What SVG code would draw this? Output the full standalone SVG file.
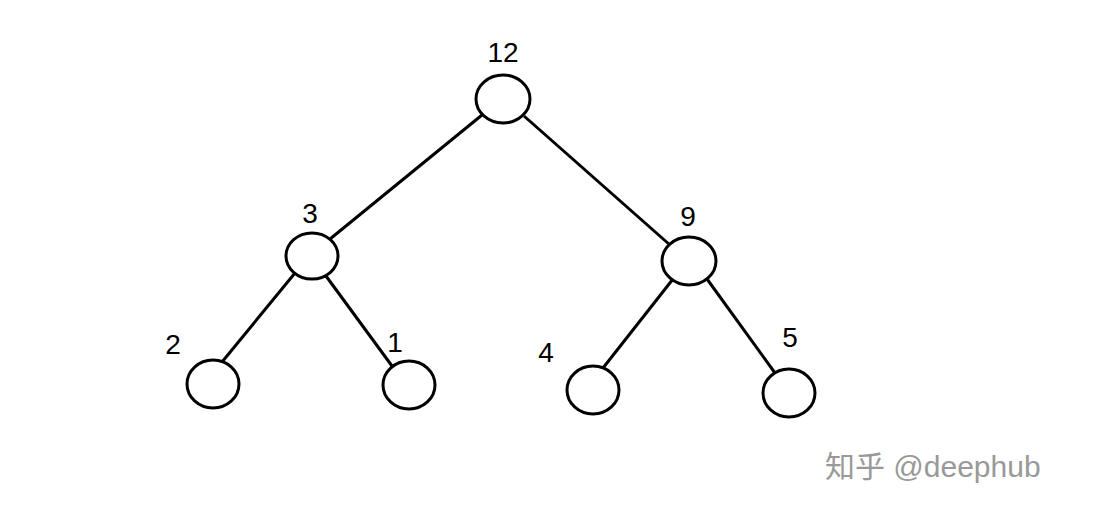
<svg xmlns="http://www.w3.org/2000/svg" width="1100" height="516" viewBox="0 0 1100 516">
<style>
.n{fill:#fff;stroke:#000;stroke-width:3}
.e{stroke:#000;stroke-width:3}
.t{font-family:"Liberation Sans",Arial,sans-serif;font-size:28px;fill:#000;text-anchor:middle}
.w{font-family:"Liberation Sans","Noto Sans CJK SC",sans-serif;font-size:30px;fill:#999}
</style>
<rect width="1100" height="516" fill="#fff"/>
<g id="edges">
<line class="e" x1="482" y1="115" x2="330" y2="239"/>
<line class="e" x1="524" y1="116" x2="670" y2="245"/>
<line class="e" x1="295" y1="273" x2="222" y2="362"/>
<line class="e" x1="326" y1="276" x2="392" y2="366"/>
<line class="e" x1="673" y1="279" x2="603" y2="368"/>
<line class="e" x1="707" y1="279" x2="775" y2="373"/>
</g>
<g id="n12"><ellipse class="n" cx="503" cy="99" rx="27" ry="24"/><text class="t" x="503" y="62">12</text></g>
<g id="n3"><ellipse class="n" cx="312" cy="256" rx="26" ry="23"/><text class="t" x="310" y="223">3</text></g>
<g id="n9"><ellipse class="n" cx="689" cy="261" rx="27" ry="24"/><text class="t" x="688" y="226">9</text></g>
<g id="n2"><ellipse class="n" cx="213" cy="384" rx="26" ry="24"/><text class="t" x="173" y="354">2</text></g>
<g id="n1"><ellipse class="n" cx="409" cy="385" rx="26" ry="24"/><text class="t" x="395" y="352">1</text></g>
<g id="n4"><ellipse class="n" cx="593" cy="390" rx="26" ry="24"/><text class="t" x="546" y="362">4</text></g>
<g id="n5"><ellipse class="n" cx="789" cy="393" rx="26" ry="24"/><text class="t" x="790" y="347">5</text></g>
<text class="w" x="825" y="477">知乎 @deephub</text>
</svg>
